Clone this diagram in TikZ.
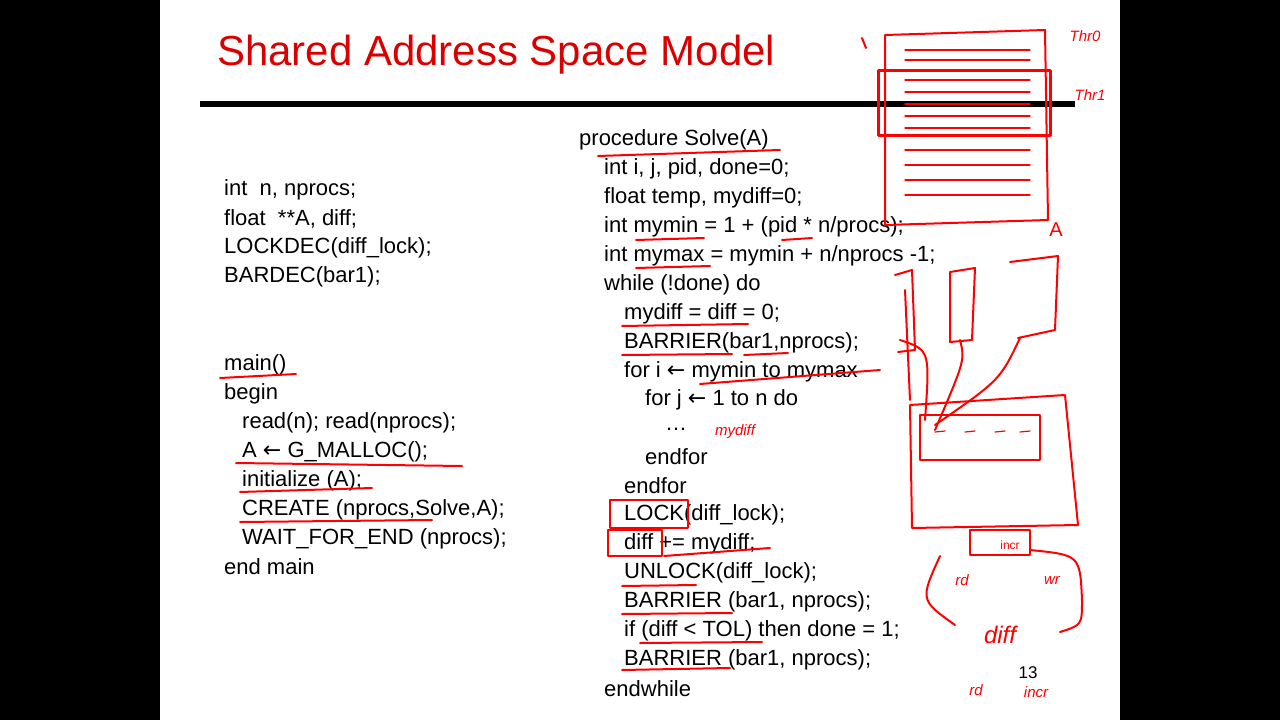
\documentclass[tikz,border=0pt]{standalone}
\usepackage{fontspec}
\setmainfont{Liberation Sans}
\newfontfamily\dv{DejaVu Sans}
\begin{document}
\begin{tikzpicture}[x=1pt,y=-1pt,
  code/.style={anchor=west,inner sep=0pt,font=\fontsize{22}{22}\selectfont},
  ink/.style={draw=red,line width=2pt,line cap=round,line join=round},
  hand/.style={text=red,inner sep=0pt,font=\itshape\fontsize{15}{15}\selectfont}]
\useasboundingbox (0,0) rectangle (1280,720);
\fill[black] (0,0) rectangle (160,720);
\fill[black] (1120,0) rectangle (1280,720);
\fill[white] (160,0) rectangle (1120,720);
\node[anchor=west,text=red!85!black,font=\fontsize{42}{42}\selectfont,inner sep=0pt] (title) at (217,55) {Shared Address Space Model};
\fill[black] (200,101) rectangle (1075,107);
% left code
\def\la{{\dv ←}}
\node[code] (l1) at (224,190) {int\ \ n, nprocs;};
\node[code] (l2) at (224,219) {float\ \ **A, diff;};
\node[code] (l3) at (224,248) {LOCKDEC(diff\_lock);};
\node[code] (l4) at (224,277) {BARDEC(bar1);};
\node[code] (l5) at (224,365) {main()};
\node[code] (l6) at (224,394) {begin};
\node[code] (l7) at (242,423) {read(n); read(nprocs);};
\node[code] (l8) at (242,452) {A \la\ G\_MALLOC();};
\node[code] (l9) at (242,481) {initialize (A);};
\node[code] (l10) at (242,510) {CREATE (nprocs,Solve,A);};
\node[code] (l11) at (242,539) {WAIT\_FOR\_END (nprocs);};
\node[code] (l12) at (224,567) {end main};
% right code
\node[code] (r1) at (579,140) {procedure Solve(A)};
\node[code] (r2) at (604,169) {int i, j, pid, done=0;};
\node[code] (r3) at (604,198) {float temp, mydiff=0;};
\node[code] (r4) at (604,227) {int mymin = 1 + (pid * n/procs);};
\node[code] (r5) at (604,256) {int mymax = mymin + n/nprocs -1;};
\node[code] (r6) at (604,285) {while (!done) do};
\node[code] (r7) at (624,314) {mydiff = diff = 0;};
\node[code] (r8) at (624,343) {BARRIER(bar1,nprocs);};
\node[code] (r9) at (624,372) {for i \la\ mymin to mymax};
\node[code] (r10) at (645,400) {for j \la\ 1 to n do};
\node[code] (r11) at (665,429) {…};
\node[code] (r12) at (645,457) {endfor};
\node[code] (r13) at (624,486) {endfor};
\node[code] (r14) at (624,515) {LOCK(diff\_lock);};
\node[code] (r15) at (624,544) {diff += mydiff;};
\node[code] (r16) at (624,573) {UNLOCK(diff\_lock);};
\node[code] (r17) at (624,602) {BARRIER (bar1, nprocs);};
\node[code] (r18) at (624,631) {if (diff < TOL) then done = 1;};
\node[code] (r19) at (624,660) {BARRIER (bar1, nprocs);};
\node[code] (r20) at (604,689) {endwhile};
\node[font=\rmfamily\fontsize{17}{17}\selectfont,inner sep=0pt] (pg) at (1028,673) {13};
% underline annotations
\draw[ink] (220,378) -- (296,374);
\draw[ink] (236,463) -- (462,466);
\draw[ink] (240,492) -- (372,488);
\draw[ink] (240,522) -- (432,520);
\draw[ink] (598,156) -- (780,150);
\draw[ink] (636,240) -- (704,238); \draw[ink] (782,240) -- (812,238);
\draw[ink] (636,268) -- (710,266);
\draw[ink] (622,326) -- (748,324);
\draw[ink] (622,355) -- (732,354); \draw[ink] (744,355) -- (788,353);
\draw[ink] (700,384) -- (880,370);
\draw[ink] (610,500) rectangle (688,528);
\draw[ink] (608,530) rectangle (662,556);
\draw[ink] (664,556) -- (770,548);
\draw[ink] (622,586) -- (696,585);
\draw[ink] (622,614) -- (732,613);
\draw[ink] (640,643) -- (762,642);
\draw[ink] (622,670) -- (730,668);
\node[hand] (md) at (735,432) {mydiff};
% top right sketch
\draw[ink] (885,35) -- (1045,30) -- (1048,220) -- (885,225) -- cycle;
\draw[ink,line width=3pt] (878,70) rectangle (1050,135);
\foreach \yy in {50,60,80,92,104,116,128,150,165,180,195}
  \draw[ink,line width=1.2pt] (905,\yy) -- (1030,\yy);
\draw[ink] (862,38) -- (866,48);
\node[hand] (t0) at (1085,36) {Thr0};
\node[hand] (t1) at (1090,95) {Thr1};
\node[hand,font=\fontsize{20}{20}\selectfont] (aa) at (1056,230) {A};
% columns
\draw[ink] (895,275) -- (912,270) -- (915,350) -- (898,352);
\draw[ink] (950,272) -- (975,268) -- (972,340) -- (950,342) -- cycle;
\draw[ink] (1010,262) -- (1058,256) -- (1055,330) -- (1018,338);
\draw[ink] (905,290) -- (910,400); \draw[ink] (935,430) .. controls (965,360) .. (960,340);
\draw[ink] (935,425) .. controls (1000,380) .. (1020,338);
\draw[ink] (925,420) .. controls (930,350) .. (900,340);
% big box
\draw[ink] (910,405) -- (1065,395) -- (1078,525) -- (912,528) -- cycle;
\draw[ink] (920,415) rectangle (1040,460);
\foreach \xx in {935,965,995,1020} \draw[ink,line width=1.2pt] (\xx,432) -- (\xx+10,431);
% bottom annotation
\draw[ink] (970,530) rectangle (1030,555);
\node[hand,font=\fontsize{12}{12}\selectfont] (incr) at (1010,545) {incr};
\draw[ink] (940,556) .. controls (920,600) .. (955,625);
\draw[ink] (1030,550) .. controls (1080,555) .. (1082,600) .. controls (1082,625) .. (1060,632);
\node[hand] (rd) at (962,580) {rd};
\node[hand] (wr) at (1052,580) {wr};
\node[hand,font=\itshape\fontsize{24}{24}\selectfont] (diff) at (1000,635) {diff};
\node[hand] (rd2) at (976,690) {rd};
\node[hand] (incr2) at (1036,692) {incr};
\end{tikzpicture}
\end{document}
